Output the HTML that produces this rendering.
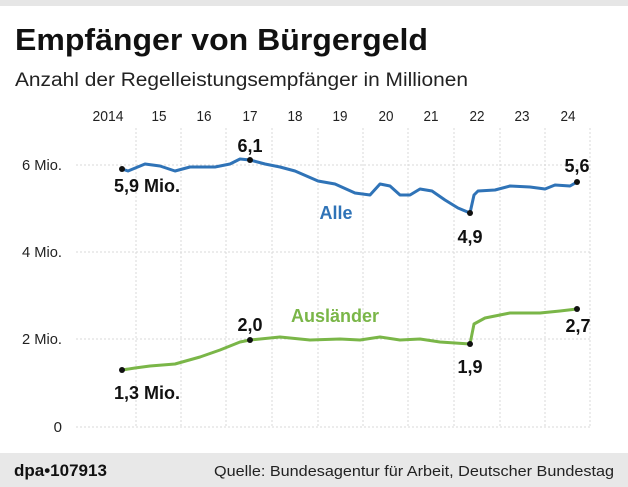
<!DOCTYPE html>
<html><head><meta charset="utf-8"><style>
html,body{margin:0;padding:0;background:#fff}
svg{display:block}
text{font-family:"Liberation Sans",sans-serif}
</style></head><body>
<svg width="628" height="487" viewBox="0 0 628 487" xmlns="http://www.w3.org/2000/svg">
<rect x="0" y="0" width="628" height="6" fill="#e6e6e6"/>
<text x="15" y="50" font-size="31" font-weight="bold" fill="#111" textLength="413" lengthAdjust="spacingAndGlyphs">Empfänger von Bürgergeld</text>
<text x="15" y="86" font-size="19" fill="#222" textLength="453" lengthAdjust="spacingAndGlyphs">Anzahl der Regelleistungsempfänger in Millionen</text>
<g font-size="15" fill="#222" text-anchor="middle">
<text x="108" y="121" textLength="31" lengthAdjust="spacingAndGlyphs">2014</text>
<text x="159" y="121" textLength="15" lengthAdjust="spacingAndGlyphs">15</text>
<text x="204" y="121" textLength="15" lengthAdjust="spacingAndGlyphs">16</text>
<text x="250" y="121" textLength="15" lengthAdjust="spacingAndGlyphs">17</text>
<text x="295" y="121" textLength="15" lengthAdjust="spacingAndGlyphs">18</text>
<text x="340" y="121" textLength="15" lengthAdjust="spacingAndGlyphs">19</text>
<text x="386" y="121" textLength="15" lengthAdjust="spacingAndGlyphs">20</text>
<text x="431" y="121" textLength="15" lengthAdjust="spacingAndGlyphs">21</text>
<text x="477" y="121" textLength="15" lengthAdjust="spacingAndGlyphs">22</text>
<text x="522" y="121" textLength="15" lengthAdjust="spacingAndGlyphs">23</text>
<text x="568" y="121" textLength="15" lengthAdjust="spacingAndGlyphs">24</text>
</g>
<g stroke="#d8d8d8" stroke-width="1" stroke-dasharray="2,2">
<line x1="76" y1="165" x2="592" y2="165"/><line x1="76" y1="252" x2="592" y2="252"/>
<line x1="76" y1="339" x2="592" y2="339"/><line x1="76" y1="427" x2="592" y2="427"/>
<line x1="136" y1="128" x2="136" y2="427"/><line x1="181" y1="128" x2="181" y2="427"/>
<line x1="226" y1="128" x2="226" y2="427"/><line x1="272" y1="128" x2="272" y2="427"/>
<line x1="318" y1="128" x2="318" y2="427"/><line x1="363" y1="128" x2="363" y2="427"/>
<line x1="408" y1="128" x2="408" y2="427"/><line x1="454" y1="128" x2="454" y2="427"/>
<line x1="500" y1="128" x2="500" y2="427"/><line x1="545" y1="128" x2="545" y2="427"/>
<line x1="590" y1="128" x2="590" y2="427"/>
</g>
<g font-size="15" fill="#222" text-anchor="end">
<text x="62" y="170" textLength="40" lengthAdjust="spacingAndGlyphs">6 Mio.</text>
<text x="62" y="257" textLength="40" lengthAdjust="spacingAndGlyphs">4 Mio.</text>
<text x="62" y="344" textLength="40" lengthAdjust="spacingAndGlyphs">2 Mio.</text>
<text x="62" y="432">0</text>
</g>
<polyline fill="none" stroke="#2f73b7" stroke-width="3" stroke-linejoin="round" points="122,169 128,171 145,164 160,166 175,171 190,167 215,167 230,164 240,159 250,160 265,164 280,167 295,171 318,181 335,184 355,193 370,195 380,184 390,186 400,195 410,195 420,189 432,191 445,200 458,208 470,213 474,195 478,191 495,190 510,186 530,187 545,189 555,185 570,186 577,182"/>
<polyline fill="none" stroke="#7ab648" stroke-width="3" stroke-linejoin="round" points="122,370 135,368 150,366 175,364 200,357 220,350 240,342 250,340 280,337 310,340 340,339 360,340 380,337 400,340 420,339 440,342 470,344 474,324 485,318 510,313 540,313 560,311 577,309"/>
<g fill="#111">
<circle cx="122" cy="169" r="3"/><circle cx="250" cy="160" r="3"/><circle cx="470" cy="213" r="3"/><circle cx="577" cy="182" r="3"/>
<circle cx="122" cy="370" r="3"/><circle cx="250" cy="340" r="3"/><circle cx="470" cy="344" r="3"/><circle cx="577" cy="309" r="3"/>
</g>
<g font-size="18" font-weight="bold" fill="#111" text-anchor="middle">
<text x="147" y="192">5,9 Mio.</text>
<text x="250" y="152">6,1</text>
<text x="470" y="243">4,9</text>
<text x="577" y="172">5,6</text>
<text x="250" y="331">2,0</text>
<text x="470" y="373">1,9</text>
<text x="147" y="399">1,3 Mio.</text>
<text x="578" y="332">2,7</text>
<text x="336" y="219" fill="#2f73b7">Alle</text>
<text x="335" y="322" fill="#7ab648">Ausländer</text>
</g>
<rect x="0" y="453" width="628" height="34" fill="#e8e8e8"/>
<text x="14" y="476" font-size="17" font-weight="bold" fill="#111">dpa•107913</text>
<text x="614" y="476" font-size="15" fill="#222" text-anchor="end" textLength="400" lengthAdjust="spacingAndGlyphs">Quelle: Bundesagentur für Arbeit, Deutscher Bundestag</text>
</svg>
</body></html>
